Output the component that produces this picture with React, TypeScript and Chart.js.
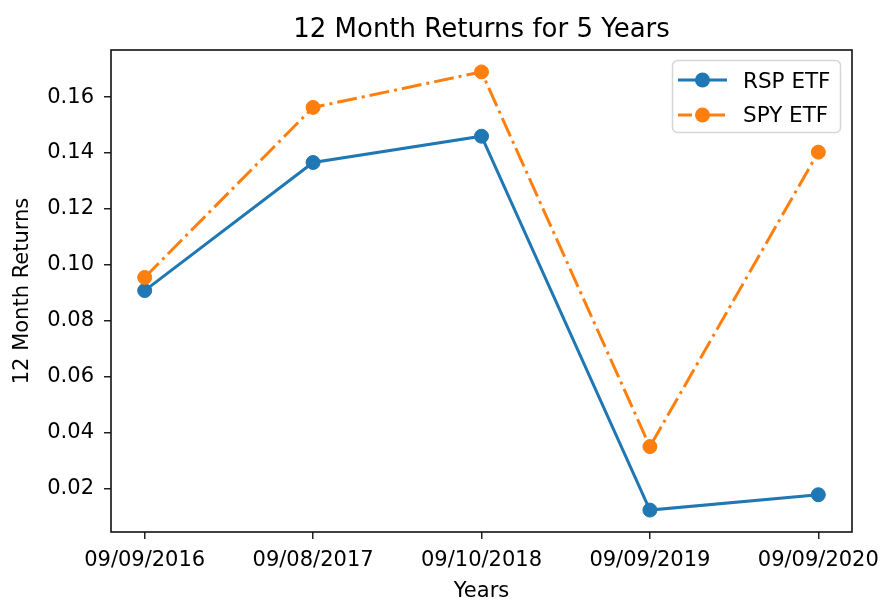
import React, { useEffect, useRef } from "react";
import { Chart, registerables } from "chart.js";

Chart.register(...registerables);

const categories = ["09/09/2016", "09/08/2017", "09/10/2018", "09/09/2019", "09/09/2020"];
const rspValues = [0.0908, 0.1366, 0.146, 0.0123, 0.0178];
const spyValues = [0.0955, 0.1563, 0.169, 0.035, 0.1403];
const yTicks = [0.02, 0.04, 0.06, 0.08, 0.1, 0.12, 0.14, 0.16];
const seriesNames = ["RSP ETF", "SPY ETF"];
const chartTitle = "12 Month Returns for 5 Years";
const xTitle = "Years";
const yTitle = "12 Month Returns";

const BLUE = "#1f77b4";
const ORANGE = "#ff7f0e";
const FAMILY = '"DejaVu Sans", "Liberation Sans", sans-serif';
const TICK_SIZE = 21;
const DASHDOT = [20, 5, 3, 5];

export default function App() {
  const ref = useRef<HTMLCanvasElement | null>(null);

  useEffect(() => {
    if (!ref.current) return;
    const all = [...rspValues, ...spyValues];
    const dmin = Math.min(...all);
    const dmax = Math.max(...all);
    const span = dmax - dmin;
    const yMin = dmin - 0.05 * span;
    const yMax = dmax + 0.05 * span;
    const xSpan = categories.length - 1;

    const framePlugin = {
      id: "frame",
      afterDatasetsDraw(chart: any) {
        const { ctx, chartArea: a } = chart;
        ctx.save();
        ctx.strokeStyle = "#111";
        ctx.lineWidth = 1.6;
        ctx.strokeRect(a.left, a.top, a.right - a.left, a.bottom - a.top);
        ctx.restore();
      },
    };

    const titlePlugin = {
      id: "mplTitle",
      afterDraw(chart: any) {
        const { ctx, chartArea: a } = chart;
        ctx.save();
        ctx.fillStyle = "#000";
        ctx.font = `26px ${FAMILY}`;
        ctx.textAlign = "center";
        ctx.textBaseline = "alphabetic";
        ctx.fillText(chartTitle, (a.left + a.right) / 2, 37);
        ctx.restore();
      },
    };

    const legendPlugin = {
      id: "mplLegend",
      afterDraw(chart: any) {
        const { ctx } = chart;
        ctx.save();
        const x = 672.5, y = 60.5, w = 168, h = 72, r = 5;
        ctx.beginPath();
        ctx.roundRect(x, y, w, h, r);
        ctx.fillStyle = "rgba(255,255,255,0.85)";
        ctx.fill();
        ctx.strokeStyle = "#d6d6d6";
        ctx.lineWidth = 1.5;
        ctx.stroke();
        const rows = [
          { name: seriesNames[0], color: BLUE, dash: [] as number[], cy: 80, base: 88 },
          { name: seriesNames[1], color: ORANGE, dash: DASHDOT, cy: 115, base: 122 },
        ];
        for (const row of rows) {
          ctx.beginPath();
          ctx.setLineDash(row.dash);
          ctx.lineDashOffset = row.dash.length ? 6 : 0;
          ctx.strokeStyle = row.color;
          ctx.lineWidth = 3;
          ctx.lineCap = "butt";
          ctx.moveTo(678, row.cy);
          ctx.lineTo(727, row.cy);
          ctx.stroke();
          ctx.setLineDash([]);
          ctx.beginPath();
          ctx.arc(702.5, row.cy, 7.5, 0, Math.PI * 2);
          ctx.fillStyle = row.color;
          ctx.fill();
          ctx.fillStyle = "#000";
          ctx.font = `21.5px ${FAMILY}`;
          ctx.textAlign = "left";
          ctx.textBaseline = "alphabetic";
          ctx.fillText(row.name, 743, row.base);
        }
        ctx.restore();
      },
    };

    const chart = new Chart(ref.current, {
      type: "line",
      data: {
        datasets: [
          {
            label: seriesNames[0],
            data: rspValues.map((v, i) => ({ x: i, y: v })),
            borderColor: BLUE,
            backgroundColor: BLUE,
            borderWidth: 3,
            pointRadius: 7,
            pointBorderWidth: 1,
            pointBackgroundColor: BLUE,
            pointBorderColor: BLUE,
            tension: 0,
            fill: false,
            order: 1,
          },
          {
            label: seriesNames[1],
            data: spyValues.map((v, i) => ({ x: i, y: v })),
            borderColor: ORANGE,
            backgroundColor: ORANGE,
            borderWidth: 3,
            borderDash: DASHDOT,
            borderCapStyle: "butt",
            pointRadius: 7,
            pointBorderWidth: 1,
            pointBackgroundColor: ORANGE,
            pointBorderColor: ORANGE,
            tension: 0,
            fill: false,
            order: 0,
          },
        ],
      },
      options: {
        animation: false,
        responsive: false,
        devicePixelRatio: 1,
        layout: { padding: { left: 10, right: 44, top: 50, bottom: 12 } },
        plugins: {
          legend: { display: false },
          title: { display: false },
          tooltip: { enabled: false },
        },
        scales: {
          x: {
            type: "linear",
            min: -0.05 * xSpan,
            max: xSpan + 0.05 * xSpan,
            afterBuildTicks: (s: any) => {
              s.ticks = categories.map((_, i) => ({ value: i }));
            },
            afterFit: (s: any) => {
              s.height = 72;
            },
            ticks: {
              callback: (v: any) => categories[v as number],
              font: { family: FAMILY, size: TICK_SIZE },
              color: "#000",
              padding: 9,
              maxRotation: 0,
              autoSkip: false,
            },
            grid: { drawOnChartArea: false, drawTicks: true, tickLength: 7, color: "#222", lineWidth: 1.5 },
            border: { display: false },
            title: {
              display: true,
              text: xTitle,
              font: { family: FAMILY, size: TICK_SIZE },
              color: "#000",
              padding: 0,
            },
          },
          y: {
            type: "linear",
            min: yMin,
            max: yMax,
            afterBuildTicks: (s: any) => {
              s.ticks = yTicks.map((v) => ({ value: v }));
            },
            afterFit: (s: any) => {
              s.width = 101;
            },
            ticks: {
              callback: (v: any) => Number(v).toFixed(2),
              font: { family: FAMILY, size: TICK_SIZE },
              color: "#000",
              padding: 10,
            },
            grid: { drawOnChartArea: false, drawTicks: true, tickLength: 7, color: "#222", lineWidth: 1.5 },
            border: { display: false },
            title: {
              display: true,
              text: yTitle,
              font: { family: FAMILY, size: TICK_SIZE },
              color: "#000",
              padding: 0,
            },
          },
        },
      },
      plugins: [framePlugin, titlePlugin, legendPlugin],
    } as any);

    return () => chart.destroy();
  }, []);

  return (
    <div style={{ position: "fixed", left: 0, top: 0, width: 896, height: 616, background: "#fff" }}>
      <canvas ref={ref} width={896} height={616} style={{ display: "block", width: 896, height: 616 }} />
    </div>
  );
}
